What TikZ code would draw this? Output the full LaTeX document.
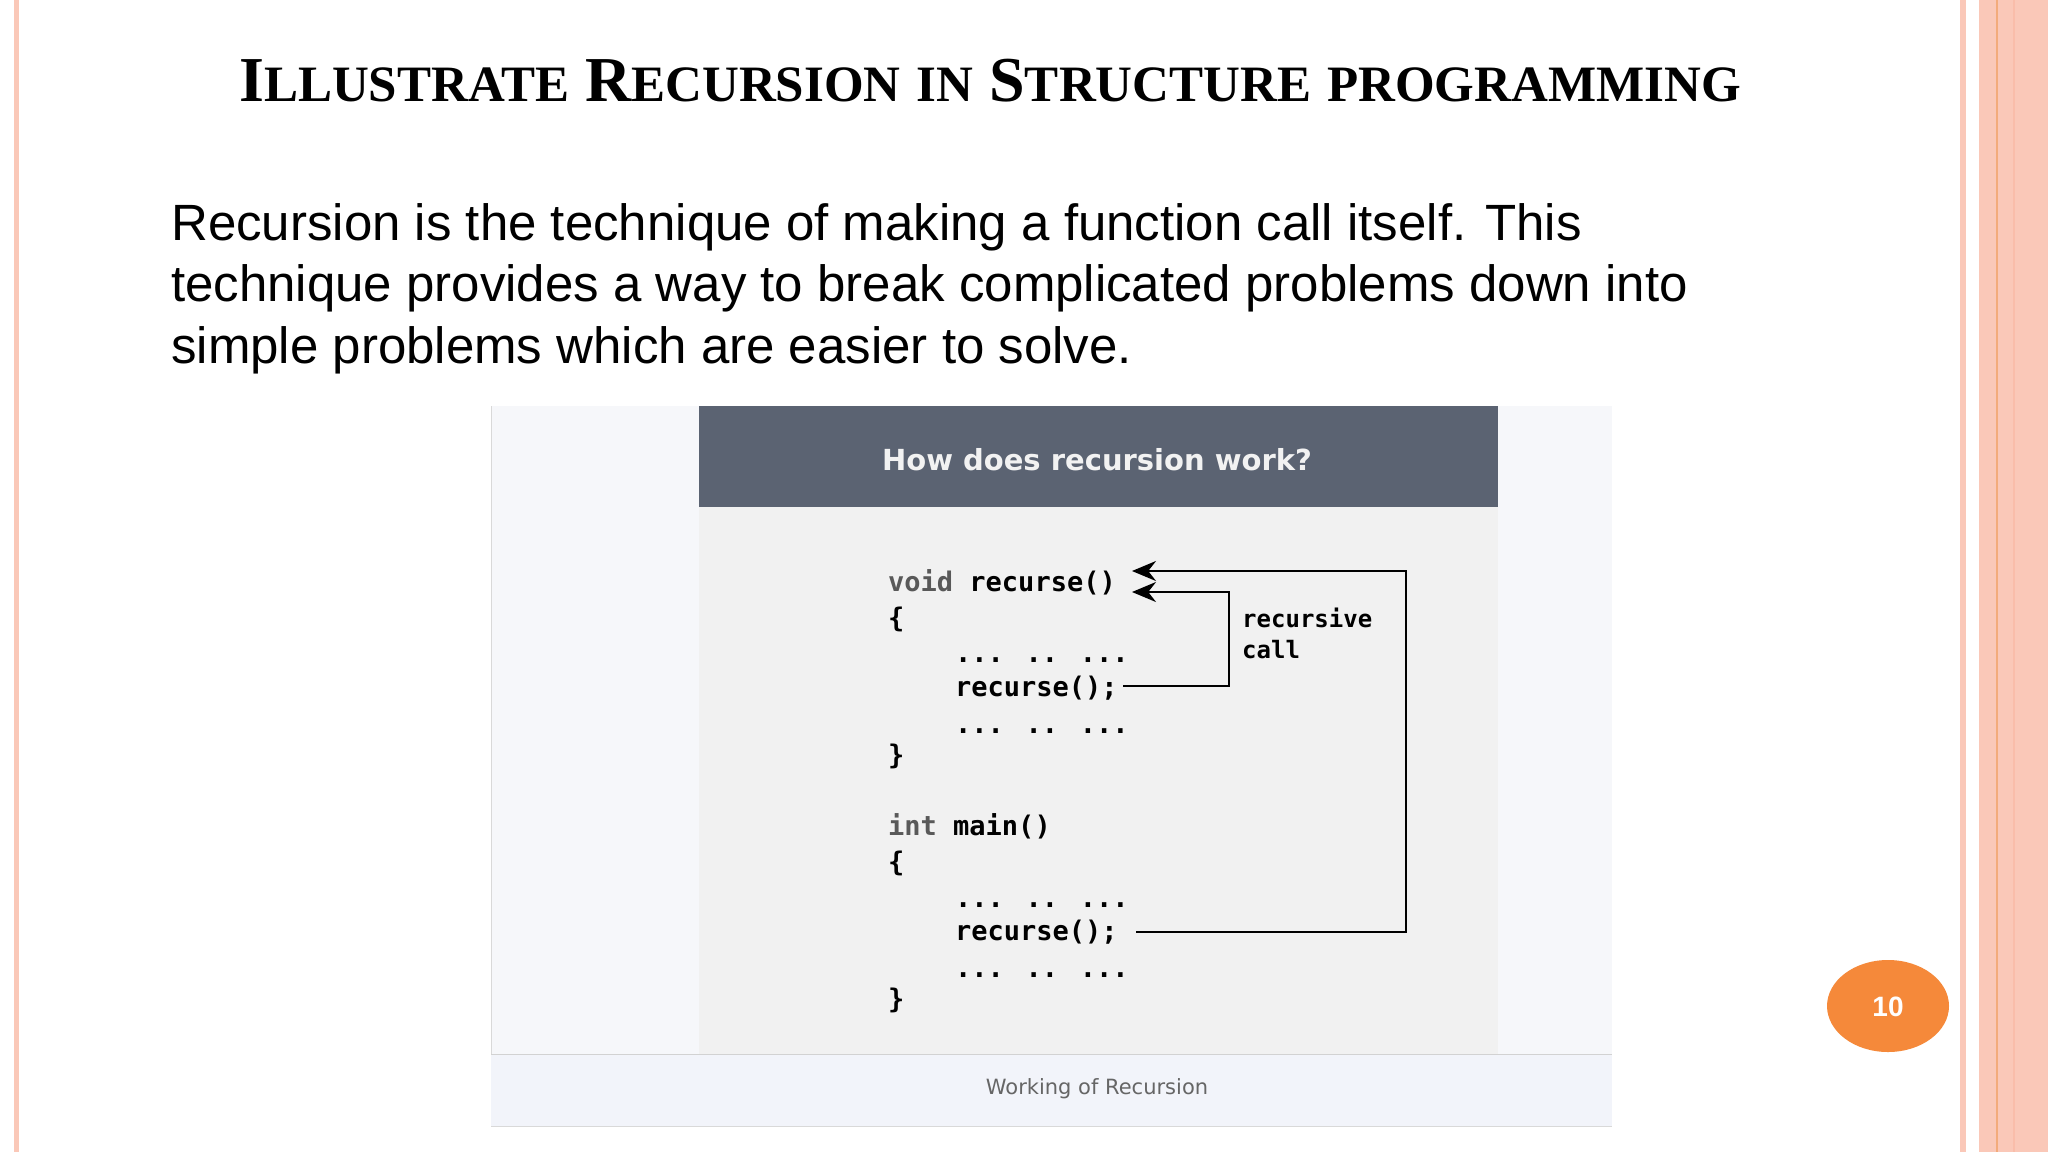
\documentclass[tikz,border=0pt]{standalone}
\usepackage{fontspec}
\usetikzlibrary{arrows.meta}
\setmainfont{Liberation Serif}
\newfontfamily\sansf{Liberation Sans}
\newfontfamily\monof{DejaVu Sans Mono}
\newfontfamily\capf{DejaVu Sans}
\definecolor{pinkst}{HTML}{FAC8B8}
\definecolor{orangeln}{HTML}{F0965A}
\definecolor{hdr}{HTML}{5B6372}
\definecolor{panel}{HTML}{F1F1F1}
\definecolor{outerbg}{HTML}{F6F7FA}
\definecolor{capbg}{HTML}{F2F4FA}
\definecolor{pgnum}{HTML}{F5893A}
\newcommand{\BigC}[1]{{\fontsize{64}{64}\selectfont #1}}
\newcommand{\SmC}[1]{{\fontsize{51}{51}\selectfont #1}}
\newcommand{\Sp}{\hspace{16pt}}
\begin{document}
\begin{tikzpicture}[x=1pt,y=-1pt,
  code/.style={anchor=base west,inner sep=0pt,font=\monof\bfseries\fontsize{27}{27}\selectfont},
  conn/.style={line width=2pt,black},
  arr/.style={conn,-{Stealth[length=24pt,width=20pt]}}]
\useasboundingbox (0,0) rectangle (2048,1152);
\fill[white] (0,0) rectangle (2048,1152);
% borders
\fill[pinkst] (14,0) rectangle (19,1152);
\fill[pinkst] (1960,0) rectangle (1966,1152);
\fill[pinkst] (1979,0) rectangle (2048,1152);
\fill[orangeln!80] (1996,0) rectangle (1998,1152);
\fill[pinkst!120] (2013,0) rectangle (2015,1152);
% title
\node[anchor=base,inner sep=0pt] (title) at (990,101) {\bfseries\BigC{I}\SmC{LLUSTRATE}\Sp\BigC{R}\SmC{ECURSION}\Sp\SmC{IN}\Sp\BigC{S}\SmC{TRUCTURE}\Sp\SmC{PROGRAMMING}};
% body
\node[anchor=base west,inner sep=0pt,align=left,font=\sansf\fontsize{51}{61.5}\selectfont] (body) at (171,363)
 {Recursion is the technique of making a function call itself. This\\
  technique provides a way to break complicated problems down into\\
  simple problems which are easier to solve.};
% image
\fill[outerbg] (491,406) rectangle (1612,1126);
\draw[gray!30,line width=1pt] (491,406) -- (491,1126) -- (1612,1126);
\fill[panel] (699,406) rectangle (1498,1054);
\fill[capbg] (491,1054) rectangle (1612,1126);
\draw[gray!35,line width=1pt] (491,1054) -- (1612,1054);
\fill[hdr] (699,406) rectangle (1498,507);
\node[font=\capf\bfseries\fontsize{29}{29}\selectfont,text=white!90!gray] (hd) at (1097,460) {How does recursion work?};
\node[font=\capf\fontsize{21}{21}\selectfont,text=gray!80!black] (cap) at (1097,1089) {Working of Recursion};
% code
\node[code] (c1) at (888,591) {\textcolor{gray!70!black}{void} recurse()};
\node[code] (c2) at (888,627) {\{};
\node[code] (c3) at (955,662) {... .. ...};
\node[code] (c4) at (955,696) {recurse();};
\node[code] (c5) at (955,733) {... .. ...};
\node[code] (c6) at (888,764) {\}};
\node[code] (m1) at (888,835) {\textcolor{gray!70!black}{int} main()};
\node[code] (m2) at (888,871) {\{};
\node[code] (m3) at (955,907) {... .. ...};
\node[code] (m4) at (955,940) {recurse();};
\node[code] (m5) at (955,977) {... .. ...};
\node[code] (m6) at (888,1008) {\}};
\node[code,font=\monof\bfseries\fontsize{24}{31}\selectfont,align=left,anchor=north west] (rc) at (1242,608) {recursive\\call};
% connectors
\coordinate (t1) at (1132,571);
\coordinate (t2) at (1132,592);
\coordinate (s1) at (1136,932);
\coordinate (s2) at (1123,686);
\draw[arr] (s1) -- (1406,932) -- (1406,571) -- (t1);
\draw[arr] (s2) -- (1229,686) -- (1229,592) -- (t2);
% page number
\fill[pgnum] (1888,1006) ellipse [x radius=61,y radius=46];
\node[font=\sansf\bfseries\fontsize{28}{28}\selectfont,text=white] (pg) at (1888,1007) {10};
\end{tikzpicture}
\end{document}
